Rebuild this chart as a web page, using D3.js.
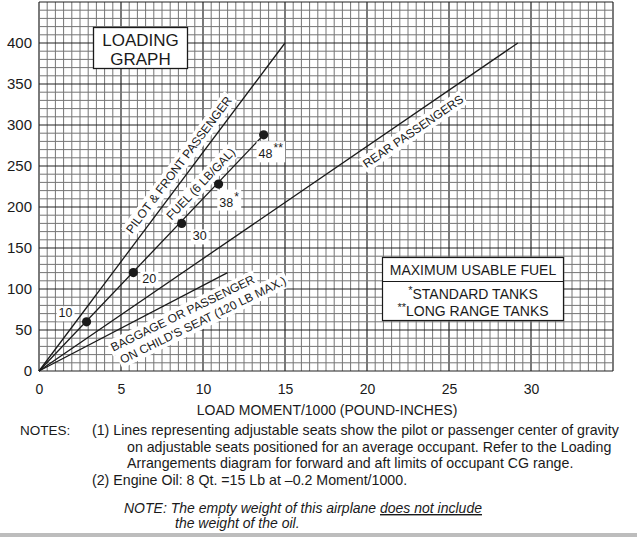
<!DOCTYPE html>
<html>
<head>
<meta charset="utf-8">
<script src="https://cdn.jsdelivr.net/npm/d3@7"></script>
<style>
  body { margin: 0; background: #fff; }
  svg { display: block; font-family: "Liberation Sans", Arial, sans-serif; }
</style>
</head>
<body>
<svg id="chart" width="637" height="537"></svg>
<script>
// DATA

const xTicks = [0, 5, 10, 15, 20, 25, 30];
const yTicks = [0, 50, 100, 150, 200, 250, 300, 350, 400];

const lineNames = ["PILOT & FRONT PASSENGER", "FUEL (6 LB/GAL)", "REAR PASSENGERS", "BAGGAGE OR PASSENGER"];
const lineEndMoment = [15, 13.7, 29.2, 11.5];
const lineEndWeight = [400, 288, 400, 120];

const fuelGallons = ["10", "20", "30", "38", "48"];
const fuelMarks = ["", "", "", "*", "**"];
const fuelWeight = [60, 120, 180, 228, 288];
const fuelMoment = [2.9, 5.75, 8.7, 10.95, 13.7];

const legendLines = ["MAXIMUM USABLE FUEL", "STANDARD TANKS", "LONG RANGE TANKS"];
const legendMarks = ["", "*", "**"];

const notes = [
  "(1) Lines representing adjustable seats show the pilot or passenger center of gravity",
  "on adjustable seats positioned for an average occupant. Refer to the Loading",
  "Arrangements diagram for forward and aft limits of occupant CG range.",
  "(2) Engine Oil: 8 Qt. =15 Lb at \u20130.2 Moment/1000."
];

// SETUP

const svg = d3.select("#chart");
const ink = "#1a1a1a";

const x = d3.scaleLinear().domain([0, 35]).range([39, 613]);
const y = d3.scaleLinear().domain([0, 450]).range([371, 2]);

// GRID

const grid = svg.append("g");

grid.selectAll(".vminor")
  .data(d3.range(0, 35.001, 0.5))
  .join("line")
  .attr("x1", d => x(d)).attr("x2", d => x(d))
  .attr("y1", y(0)).attr("y2", y(450))
  .attr("stroke", d => d % 5 === 0 ? "#222" : "#767676")
  .attr("stroke-width", d => d % 5 === 0 ? 1.2 : 1);

grid.selectAll(".hminor")
  .data(d3.range(0, 450.001, 10))
  .join("line")
  .attr("x1", x(0)).attr("x2", x(35))
  .attr("y1", d => y(d)).attr("y2", d => y(d))
  .attr("stroke", d => d % 50 === 0 ? "#222" : "#767676")
  .attr("stroke-width", d => d % 50 === 0 ? 1.2 : 1);

// AXES (labels only)

const xAxis = svg.append("g")
  .attr("transform", `translate(0,${y(0)})`)
  .call(d3.axisBottom(x).tickValues(xTicks).tickSize(0).tickPadding(13));

const yAxis = svg.append("g")
  .attr("transform", `translate(${x(0)},0)`)
  .call(d3.axisLeft(y).tickValues(yTicks).tickSize(0).tickPadding(7));

[xAxis, yAxis].forEach((a, k) => {
  a.select(".domain").remove();
  a.selectAll("text")
    .attr("font-family", "Liberation Sans, Arial, sans-serif")
    .attr("font-size", k === 0 ? 14 : 15)
    .attr("fill", ink);
});

svg.append("text")
  .attr("x", 327).attr("y", 415)
  .attr("text-anchor", "middle")
  .attr("font-size", 14)
  .attr("fill", ink)
  .text("LOAD MOMENT/1000 (POUND-INCHES)");

// LOADING LINES

const lineGen = d3.line().x(d => x(d[0])).y(d => y(d[1]));

svg.append("g").selectAll("path")
  .data(lineNames.map((n, i) => [[0, 0], [lineEndMoment[i], lineEndWeight[i]]]))
  .join("path")
  .attr("d", lineGen)
  .attr("fill", "none")
  .attr("stroke", ink)
  .attr("stroke-width", 1.3);

// text placed along a line: dist along from origin, offset to the upper-left (+) or lower-right (-)
function alongLine(i, dist, offset) {
  const x0 = x(0), y0 = y(0);
  const x1 = x(lineEndMoment[i]), y1 = y(lineEndWeight[i]);
  const len = Math.hypot(x1 - x0, y1 - y0);
  const ux = (x1 - x0) / len, uy = (y1 - y0) / len;
  return {
    px: x0 + ux * dist + uy * offset,
    py: y0 + uy * dist - ux * offset,
    angle: Math.atan2(uy, ux) * 180 / Math.PI
  };
}

function haloText(parent, label, pad) {
  const g = parent.append("g");
  const t = g.append("text")
    .attr("text-anchor", "middle")
    .attr("dy", "0.36em")
    .attr("font-size", 12)
    .attr("fill", ink)
    .text(label);
  const b = t.node().getBBox();
  g.insert("rect", "text")
    .attr("x", b.x - pad).attr("y", b.y - pad + 1)
    .attr("width", b.width + 2 * pad).attr("height", b.height + 2 * pad - 2)
    .attr("fill", "#fff");
  return g;
}

const lineLabels = [
  { i: 0, text: lineNames[0], dist: 249, off: 12 },
  { i: 1, text: lineNames[1], dist: 247, off: 12 },
  { i: 2, text: lineNames[2], dist: 444, off: -13.5 },
  { i: 3, text: lineNames[3], dist: 154, off: -15 },
  { i: 3, text: "ON CHILD'S SEAT (120 LB MAX.)", dist: 169, off: -30.5 }
];

const labelLayer = svg.append("g");
lineLabels.forEach(l => {
  const p = alongLine(l.i, l.dist, l.off);
  haloText(labelLayer, l.text, 2)
    .attr("transform", `translate(${p.px},${p.py}) rotate(${l.i === 3 ? p.angle + 1.5 : p.angle})`);
});

// FUEL POINTS

const nudge = [[-21, -9], [16, 5.5], [18, 12.5], [10.5, 18], [7, 19]];

svg.append("g").selectAll("circle")
  .data(fuelWeight)
  .join("circle")
  .attr("cx", (d, i) => x(fuelMoment[i]))
  .attr("cy", d => y(d))
  .attr("r", 4.6)
  .attr("fill", ink);

const fuelLabels = svg.append("g").selectAll("g")
  .data(fuelGallons)
  .join("g")
  .attr("transform", (d, i) =>
    `translate(${x(fuelMoment[i]) + nudge[i][0]},${y(fuelWeight[i]) + nudge[i][1]})`);

fuelLabels.each(function (d, i) {
  const g = d3.select(this);
  const t = g.append("text")
    .attr("text-anchor", "middle")
    .attr("dy", "0.36em")
    .attr("font-size", 12.5)
    .attr("fill", ink);
  t.append("tspan").text(d);
  if (fuelMarks[i]) {
    t.append("tspan").attr("dy", -6).attr("dx", 1).attr("font-size", 12).text(fuelMarks[i]);
  }
  const b = t.node().getBBox();
  g.insert("rect", "text")
    .attr("x", b.x - 2).attr("y", b.y)
    .attr("width", b.width + 4).attr("height", b.height + 1)
    .attr("fill", "#fff");
});

// LOADING GRAPH BOX

svg.append("rect")
  .attr("x", 93.5).attr("y", 27.5).attr("width", 94).attr("height", 41)
  .attr("fill", "#fff").attr("stroke", ink).attr("stroke-width", 1.3);

svg.append("g").selectAll("text")
  .data(["LOADING", "GRAPH"])
  .join("text")
  .attr("x", 140.5)
  .attr("y", (d, i) => 46 + i * 19)
  .attr("text-anchor", "middle")
  .attr("font-size", 17)
  .attr("fill", ink)
  .text(d => d);

// LEGEND BOX

svg.append("rect")
  .attr("x", 382.5).attr("y", 257.5).attr("width", 181).attr("height", 63)
  .attr("fill", "#fff").attr("stroke", ink).attr("stroke-width", 1.2);
svg.append("line")
  .attr("x1", 382.5).attr("x2", 563.5).attr("y1", 281.5).attr("y2", 281.5)
  .attr("stroke", ink).attr("stroke-width", 1.2);

svg.append("g").selectAll("text")
  .data(legendLines)
  .join("text")
  .attr("x", 473)
  .attr("y", (d, i) => [275, 299, 316][i])
  .attr("text-anchor", "middle")
  .attr("font-size", 14)
  .attr("fill", ink)
  .each(function (d, i) {
    const t = d3.select(this);
    if (legendMarks[i]) t.append("tspan").attr("dy", -5).attr("font-size", 11).text(legendMarks[i]);
    t.append("tspan").attr("dy", legendMarks[i] ? 5 : 0).text(d);
  });

// NOTES

svg.append("text")
  .attr("x", 20).attr("y", 435)
  .attr("font-size", 13.5).attr("fill", ink)
  .text("NOTES:");

svg.append("g").selectAll("text")
  .data(notes)
  .join("text")
  .attr("x", (d, i) => (i === 0 || i === 3) ? 92 : 127)
  .attr("y", (d, i) => 435 + i * 16.5)
  .attr("font-size", 14.2)
  .attr("fill", ink)
  .text(d => d);

const note2 = svg.append("text")
  .attr("x", 124).attr("y", 513)
  .attr("font-size", 14).attr("font-style", "italic").attr("fill", ink);
note2.append("tspan").text("NOTE:  The empty weight of this airplane ");
note2.append("tspan").attr("text-decoration", "underline").text("does not include");

svg.append("text")
  .attr("x", 175).attr("y", 528)
  .attr("font-size", 14).attr("font-style", "italic").attr("fill", ink)
  .text("the weight of the oil.");

svg.append("rect")
  .attr("x", 0).attr("y", 533).attr("width", 637).attr("height", 4)
  .attr("fill", "#bdbdbd");
</script>
</body>
</html>
